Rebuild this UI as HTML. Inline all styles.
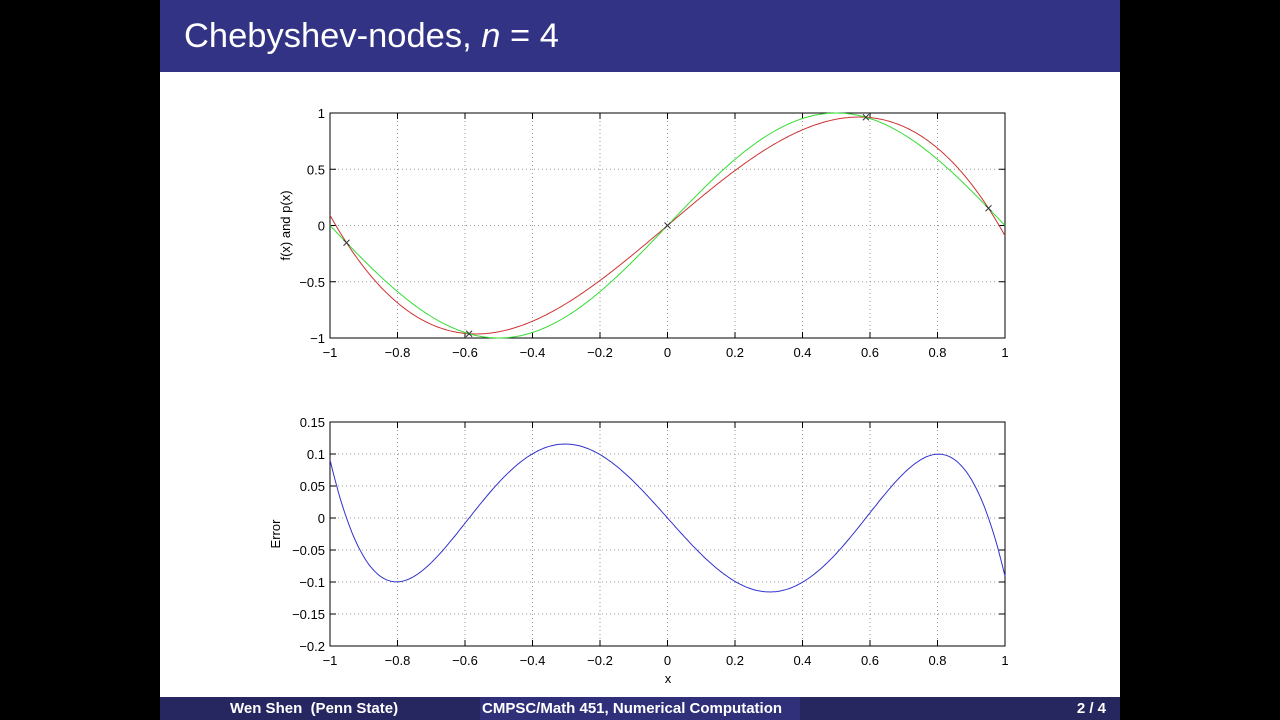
<!DOCTYPE html>
<html><head><meta charset="utf-8"><style>
body{margin:0;width:1280px;height:720px;background:#000;overflow:hidden;font-family:"Liberation Sans",sans-serif}
#slide{position:absolute;left:160px;top:0;width:960px;height:720px;background:#fff}
#hdr{position:absolute;left:0;top:0;width:960px;height:72px;background:#333386}
#hdr span{position:absolute;left:24px;top:17px;color:#fff;font-size:34.5px}
#ftr{position:absolute;left:0;top:697px;width:960px;height:23px;background:#27275f;color:#fff;font-size:15px}
</style></head><body>
<div id="slide">
<div id="hdr"><span>Chebyshev-nodes, <i>n</i> = 4</span></div>
<div id="ftr">
<div style="position:absolute;left:0;width:320px;height:23px;background:#262660"></div>
<div style="position:absolute;left:320px;width:320px;height:23px;background:#30307a"></div>
<div style="position:absolute;left:70px;top:3px;font-weight:bold">Wen Shen&nbsp; (Penn State)</div>
<div style="position:absolute;left:322px;top:3px;font-weight:bold">CMPSC/Math 451, Numerical Computation</div>
<div style="position:absolute;right:14px;top:3px;font-weight:bold">2 / 4</div>
</div>
</div>
<svg id="s" width="1280" height="720" style="position:absolute;left:0;top:0" font-family="Liberation Sans" font-size="13"></svg>
<script>
const s=document.getElementById('s');let h='';
const X0=330,X1=1005;const mx=x=>X0+(x+1)/2*(X1-X0);
const nodes=[0,1,2,3,4].map(k=>Math.cos((2*k+1)*Math.PI/10));
const f=x=>Math.sin(Math.PI*x);
const p=x=>{let r=0;for(let i=0;i<5;i++){let L=1;for(let j=0;j<5;j++)if(j!=i)L*=(x-nodes[j])/(nodes[i]-nodes[j]);r+=L*f(nodes[i]);}return r;};
function axes(top,bot,ymin,ymax,yt,lab,ylab){
 const my=y=>bot-(y-ymin)/(ymax-ymin)*(bot-top);
 for(let i=1;i<10;i++){const x=mx(-1+i*0.2);h+=`<line x1="${x}" y1="${top}" x2="${x}" y2="${bot}" stroke="#999" stroke-dasharray="1,3"/>`;}
 yt.forEach((y,i)=>{const yy=my(y);if(i>0&&i<yt.length-1)h+=`<line x1="${X0}" y1="${yy}" x2="${X1}" y2="${yy}" stroke="#999" stroke-dasharray="1,3"/>`;
  h+=`<line x1="${X0}" y1="${yy}" x2="${X0+6}" y2="${yy}" stroke="#000"/><line x1="${X1}" y1="${yy}" x2="${X1-6}" y2="${yy}" stroke="#000"/>`;
  h+=`<text x="${X0-5}" y="${yy+5}" text-anchor="end">${lab[i]}</text>`;});
 for(let i=0;i<=10;i++){const x=mx(-1+i*0.2);h+=`<line x1="${x}" y1="${bot}" x2="${x}" y2="${bot-6}" stroke="#000"/><line x1="${x}" y1="${top}" x2="${x}" y2="${top+6}" stroke="#000"/>`;
  const v=(-1+i*0.2);let t=Math.abs(v)<1e-9?'0':(Math.round(v*10)/10).toString().replace('-','\u2212');h+=`<text x="${x}" y="${bot+19}" text-anchor="middle">${t}</text>`;}
 h+=`<rect x="${X0}" y="${top}" width="${X1-X0}" height="${bot-top}" fill="none" stroke="#000"/>`;
 h+=`<text transform="translate(${ylab},${(top+bot)/2}) rotate(-90)" text-anchor="middle">${lab.ylabel}</text>`;
 return my;}
const l1=['\u22121','\u22120.5','0','0.5','1'];l1.ylabel='f(x) and p(x)';
const my1=axes(113,338,-1,1,[-1,-0.5,0,0.5,1],l1,290);
function path(fn,my,c){let d='';for(let i=0;i<=400;i++){const x=-1+i/200;d+=(i?'L':'M')+mx(x).toFixed(1)+','+my(fn(x)).toFixed(1);}h+=`<path d="${d}" fill="none" stroke="${c}" stroke-width="1"/>`;}
path(p,my1,'#c33');path(f,my1,'#3d3');
nodes.forEach(n=>{const x=mx(n),y=my1(f(n));h+=`<path d="M${x-3},${y-3}L${x+3},${y+3}M${x-3},${y+3}L${x+3},${y-3}" stroke="#333"/>`;});
const l2=['\u22120.2','\u22120.15','\u22120.1','\u22120.05','0','0.05','0.1','0.15'];l2.ylabel='Error';
const my2=axes(422,646,-0.2,0.15,[-0.2,-0.15,-0.1,-0.05,0,0.05,0.1,0.15],l2,280);
path(x=>p(x)-f(x),my2,'#33c');
h+=`<text x="668" y="683" text-anchor="middle">x</text>`;
s.innerHTML=h;
</script>
</body></html>
